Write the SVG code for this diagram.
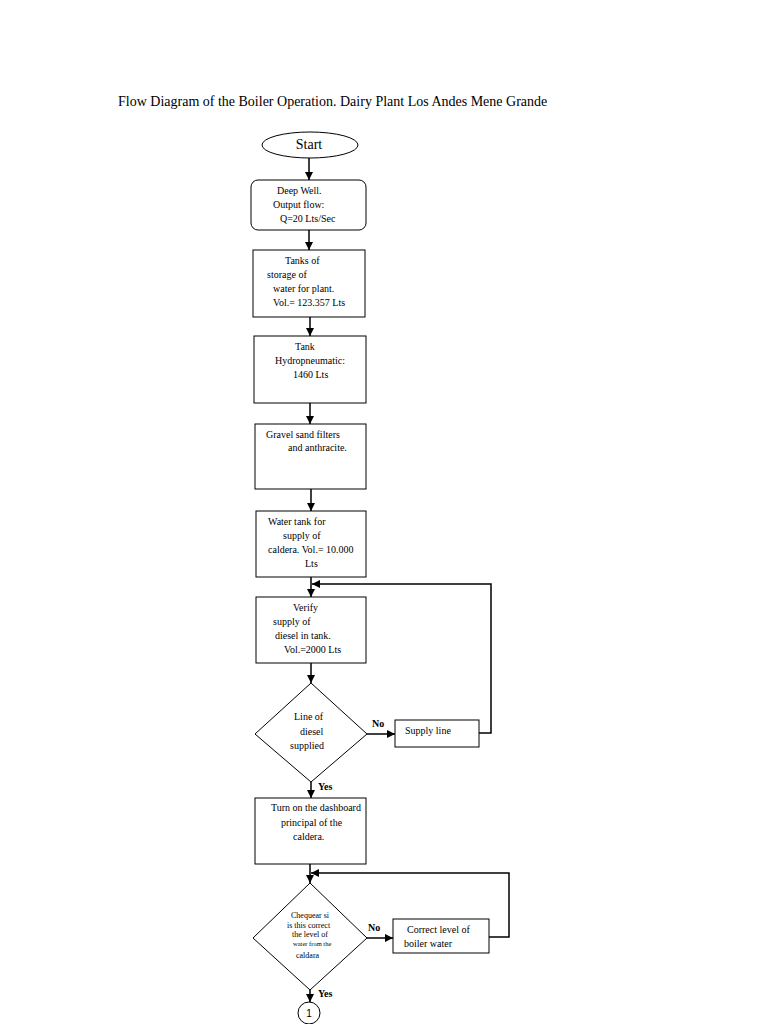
<svg xmlns="http://www.w3.org/2000/svg" width="768" height="1024" viewBox="0 0 768 1024">
<style>
text{font-family:"Liberation Serif","Times New Roman",serif;fill:#000}
.t{font-size:10px}
.s{font-size:8px}
.xs{font-size:6.5px}
.b{font-size:10px;font-weight:bold}
.n{fill:#fff;stroke:#000;stroke-width:1}
.c{fill:none;stroke:#000;stroke-width:1.5}
</style>
<defs>
<marker id="a" viewBox="0 0 10 10" refX="10" refY="5" markerWidth="8" markerHeight="8" markerUnits="userSpaceOnUse" orient="auto"><path d="M0,0L10,5L0,10z" fill="#000"/></marker>
</defs>
<rect width="768" height="1024" fill="#fff"/>
<text x="118" y="106" style="font-size:14px">Flow Diagram of the Boiler Operation. Dairy Plant Los Andes Mene Grande</text>
<g id="connectors">
<line class="c" x1="309" y1="158" x2="309" y2="180" marker-end="url(#a)"/>
<line class="c" x1="309" y1="230" x2="309" y2="250" marker-end="url(#a)"/>
<line class="c" x1="310" y1="317" x2="310" y2="336" marker-end="url(#a)"/>
<line class="c" x1="310" y1="403" x2="310" y2="424" marker-end="url(#a)"/>
<line class="c" x1="311" y1="489" x2="311" y2="511" marker-end="url(#a)"/>
<line class="c" x1="311" y1="577" x2="311" y2="597" marker-end="url(#a)"/>
<polyline class="c" points="479,733 491,733 491,584 312,584" marker-end="url(#a)"/>
<line class="c" x1="311" y1="663" x2="311" y2="683" marker-end="url(#a)"/>
<line class="c" x1="367" y1="734" x2="395" y2="734" marker-end="url(#a)"/>
<text class="b" x="372" y="727">No</text>
<line class="c" x1="311" y1="782" x2="311" y2="798" marker-end="url(#a)"/>
<text class="b" x="318" y="790">Yes</text>
<line class="c" x1="310" y1="864" x2="310" y2="883" marker-end="url(#a)"/>
<polyline class="c" points="489,937 509,937 509,873 311,873" marker-end="url(#a)"/>
<line class="c" x1="367" y1="938" x2="393" y2="938" marker-end="url(#a)"/>
<text class="b" x="368" y="931">No</text>
<line class="c" x1="310" y1="990" x2="310" y2="1002" marker-end="url(#a)"/>
<text class="b" x="318" y="997">Yes</text>
</g>
<g id="start"><ellipse class="n" cx="310" cy="145" rx="48" ry="13"/><text x="309" y="149" text-anchor="middle" style="font-size:14px">Start</text></g>
<g id="well"><rect class="n" x="251" y="180" width="115" height="50" rx="7"/><text class="t" x="277" y="194">Deep Well.</text><text class="t" x="273" y="208">Output flow:</text><text class="t" x="280" y="222">Q=20 Lts/Sec</text></g>
<g id="tanks"><rect class="n" x="253" y="250" width="112" height="67"/><text class="t" x="285" y="264">Tanks of</text><text class="t" x="267" y="278">storage of</text><text class="t" x="273" y="292">water for plant.</text><text class="t" x="273" y="306">Vol.= 123.357 Lts</text></g>
<g id="hydro"><rect class="n" x="254" y="336" width="112" height="67"/><text class="t" x="295" y="350">Tank</text><text class="t" x="275" y="364">Hydropneumatic:</text><text class="t" x="293" y="378">1460 Lts</text></g>
<g id="gravel"><rect class="n" x="255" y="424" width="111" height="65"/><text class="t" x="266" y="438">Gravel sand filters</text><text class="t" x="288" y="451">and anthracite.</text></g>
<g id="watertank"><rect class="n" x="256" y="511" width="110" height="66"/><text class="t" x="268" y="525">Water tank for</text><text class="t" x="283" y="539">supply of</text><text class="t" x="268" y="553">caldera. Vol.= 10.000</text><text class="t" x="305" y="567">Lts</text></g>
<g id="verify"><rect class="n" x="256" y="597" width="110" height="66"/><text class="t" x="293" y="611">Verify</text><text class="t" x="273" y="625">supply of</text><text class="t" x="275" y="639">diesel in tank.</text><text class="t" x="284" y="653">Vol.=2000 Lts</text></g>
<g id="dec1"><polygon class="n" points="311,683 367,734 311,782 255,734"/><text class="t" x="294" y="720">Line of</text><text class="t" x="300" y="735">diesel</text><text class="t" x="290" y="749">supplied</text></g>
<g id="supply"><rect class="n" x="395" y="720" width="84" height="27"/><text class="t" x="405" y="734">Supply line</text></g>
<g id="turnon"><rect class="n" x="255" y="798" width="111" height="66"/><text class="t" x="271" y="811">Turn on the dashboard</text><text class="t" x="281" y="826">principal of the</text><text class="t" x="293" y="840">caldera.</text></g>
<g id="dec2"><polygon class="n" points="310,883 367,938 310,990 253,938"/><text class="s" x="291" y="918">Chequear si</text><text class="s" x="287" y="928">is this correct</text><text class="s" x="292" y="937">the level of</text><text class="xs" x="293" y="946">water from the</text><text class="s" x="296" y="958">caldara</text></g>
<g id="correct"><rect class="n" x="393" y="919" width="96" height="34"/><text class="t" x="407" y="933">Correct level of</text><text class="t" x="404" y="947">boiler water</text></g>
<g id="conn1"><circle class="n" cx="309" cy="1013" r="11"/><text x="309" y="1017" text-anchor="middle" style="font-family:'Liberation Sans',Arial,sans-serif;font-size:10px">1</text></g>
</svg>
